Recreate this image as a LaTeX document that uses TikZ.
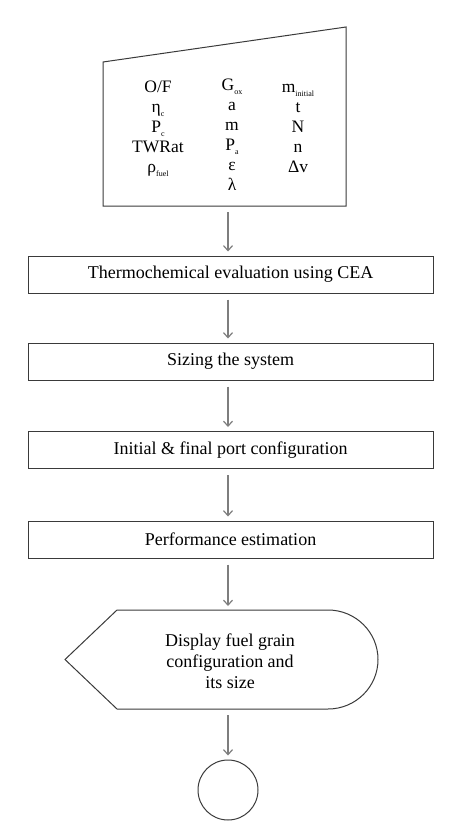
\documentclass[tikz,border=0pt]{standalone}
\usepackage{fontspec}
\setmainfont{Liberation Serif}
\usetikzlibrary{arrows.meta,positioning}
\definecolor{ink}{HTML}{3A3A3A}
\definecolor{pointer}{HTML}{7E7E7E}
\newcommand{\lowsub}[1]{\smash{\raisebox{-4pt}{\fontsize{8}{8}\selectfont #1}}}
\tikzset{
  stepbox/.style={draw=ink, line width=1pt, minimum width=405pt, minimum height=37pt,
    inner sep=0pt, font=\fontsize{18}{21}\selectfont},
  outline/.style={draw=ink, line width=1pt},
  symcol/.style={align=center, inner sep=0pt, anchor=base, font=\fontsize{17.5}{20}\selectfont},
  flow/.style={draw=pointer, line width=1.2pt, -{Straight Barb[length=5pt,width=9pt]},
    shorten <=6pt, shorten >=4pt},
}

\begin{document}
\begin{tikzpicture}[x=1pt,y=-1pt]
\useasboundingbox (0,0) rectangle (462,835);

% ----- input parameters (manual input) -----
\draw[outline] (103,62) -- (346,27) -- (346,206) -- (103,206) -- cycle;
% base anchor = last line of each column
\node[symcol] (colA) at (158,172) {O/F\\ η\lowsub{c}\\ P\lowsub{c}\\ TWRat\\ ρ\lowsub{fuel}};
\node[symcol] (colB) at (232,190) {G\lowsub{ox}\\ a\\ m\\ P\lowsub{a}\\ ε\\ λ};
\node[symcol] (colC) at (298,172) {m\lowsub{initial}\\ t\\ N\\ n\\ Δv};
\coordinate (inbot) at (228,206);

% ----- process steps -----
\node[stepbox] (cea) at (230.5,274.5) {Thermochemical evaluation using CEA};
\node[stepbox] (sizing) at (230.5,361.5) {Sizing the system};
\node[stepbox] (port) at (230.5,450) {Initial \& final port configuration};
\node[stepbox] (perf) at (230.5,539.5) {Performance estimation};

% ----- display -----
\draw[outline] (117,610) -- (328,610) arc[start angle=-90, end angle=90, x radius=50, y radius=49.5]
  -- (117,709) -- (65,659.5) -- cycle;
\node[align=center, inner sep=0pt, font=\fontsize{18}{21}\selectfont] (disp) at (230,661)
  {Display fuel grain\\configuration and\\its size};
\coordinate (disptop) at (228,610);
\coordinate (dispbot) at (228,709);

% ----- end -----
\node[outline, circle, minimum size=60pt, inner sep=0pt] (stop) at (228,790) {};

% ----- flows -----
\draw[flow] (inbot) -- (inbot |- cea.north);
\draw[flow] (cea.south -| inbot) -- (inbot |- sizing.north);
\draw[flow] (sizing.south -| inbot) -- (inbot |- port.north);
\draw[flow] (port.south -| inbot) -- (inbot |- perf.north);
\draw[flow] (perf.south -| inbot) -- (disptop);
\draw[flow] (dispbot) -- (stop.north);

\end{tikzpicture}
\end{document}
